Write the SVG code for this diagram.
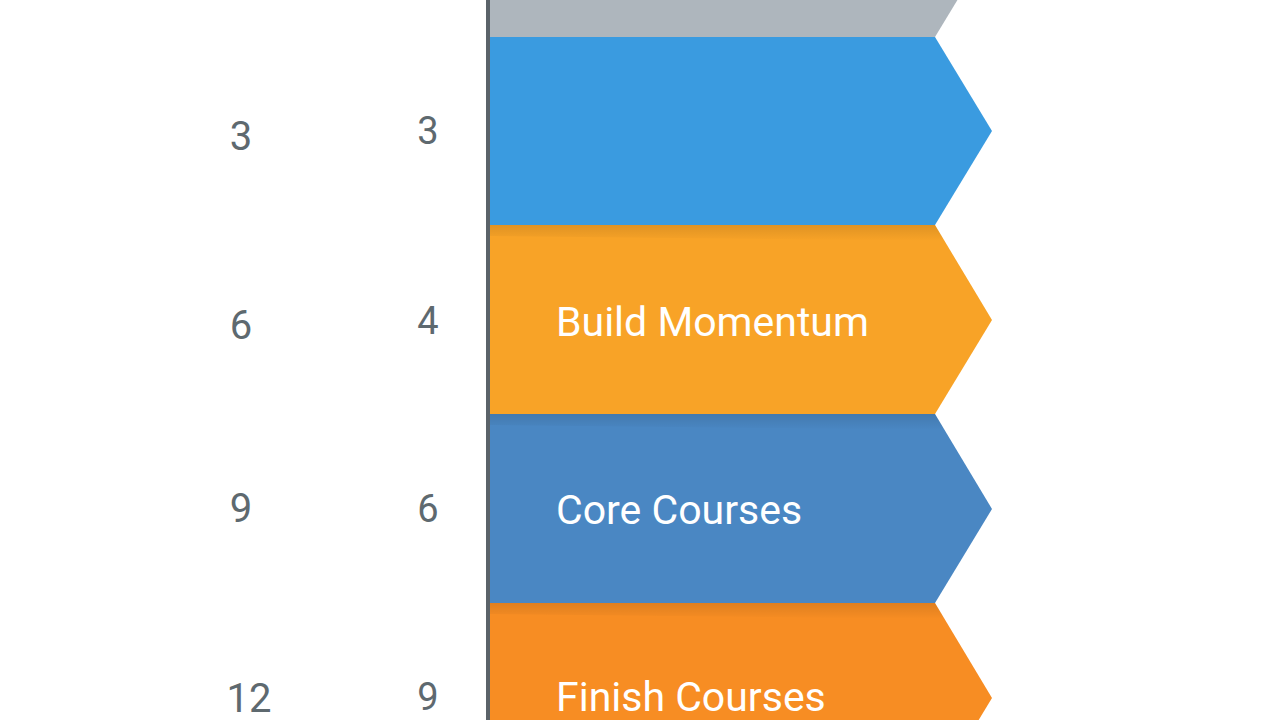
<svg xmlns="http://www.w3.org/2000/svg" width="1280" height="720" viewBox="0 0 1280 720">
<style>
.num{font-family:Roboto,"Liberation Sans",sans-serif;fill:#5e696f;text-anchor:middle}
.lbl{font-family:Roboto,"Liberation Sans",sans-serif;fill:#ffffff;font-size:41px}
</style>
<defs>
<linearGradient id="sh" x1="0" y1="0" x2="0" y2="1">
<stop offset="0" stop-color="#000" stop-opacity="0.10"/>
<stop offset="1" stop-color="#000" stop-opacity="0"/>
</linearGradient>
</defs>
<rect width="1280" height="720" fill="#ffffff"/>
<g id="band-gray"><polygon points="490,-151 935,-151 992,-57 935,37 490,37" fill="#aeb6bd"/></g>
<g id="band-blue1"><polygon points="490,37 935,37 992,131 935,225 490,225" fill="#3a9be0"/></g>
<g id="band-orange1"><polygon points="490,225 935,225 992,320 935,414 490,414" fill="#f8a327"/>
<polygon points="490,225 935,225 945,241 490,236" fill="url(#sh)"/>
<text class="lbl" x="556" y="336">Build Momentum</text></g>
<g id="band-blue2"><polygon points="490,414 935,414 992,509 935,603 490,603" fill="#4a87c3"/>
<polygon points="490,414 935,414 945,430 490,425" fill="url(#sh)"/>
<text class="lbl" x="556" y="524">Core Courses</text></g>
<g id="band-orange2"><polygon points="490,603 935,603 992,698 935,792 490,792" fill="#f78d23"/>
<polygon points="490,603 935,603 945,619 490,614" fill="url(#sh)"/>
<text class="lbl" x="556" y="711">Finish Courses</text></g>
<g id="connectors"><line x1="488" y1="0" x2="488" y2="720" stroke="#5b6369" stroke-width="4"/></g>
<g id="col1">
<text class="num" x="241" y="150" font-size="40">3</text>
<text class="num" x="241" y="339" font-size="40">6</text>
<text class="num" x="241" y="522" font-size="40">9</text>
<text class="num" x="249" y="712" font-size="40">12</text>
</g>
<g id="col2">
<text class="num" x="428" y="144" font-size="38">3</text>
<text class="num" x="428" y="334" font-size="38">4</text>
<text class="num" x="428" y="522" font-size="38">6</text>
<text class="num" x="428" y="710" font-size="38">9</text>
</g>
</svg>
